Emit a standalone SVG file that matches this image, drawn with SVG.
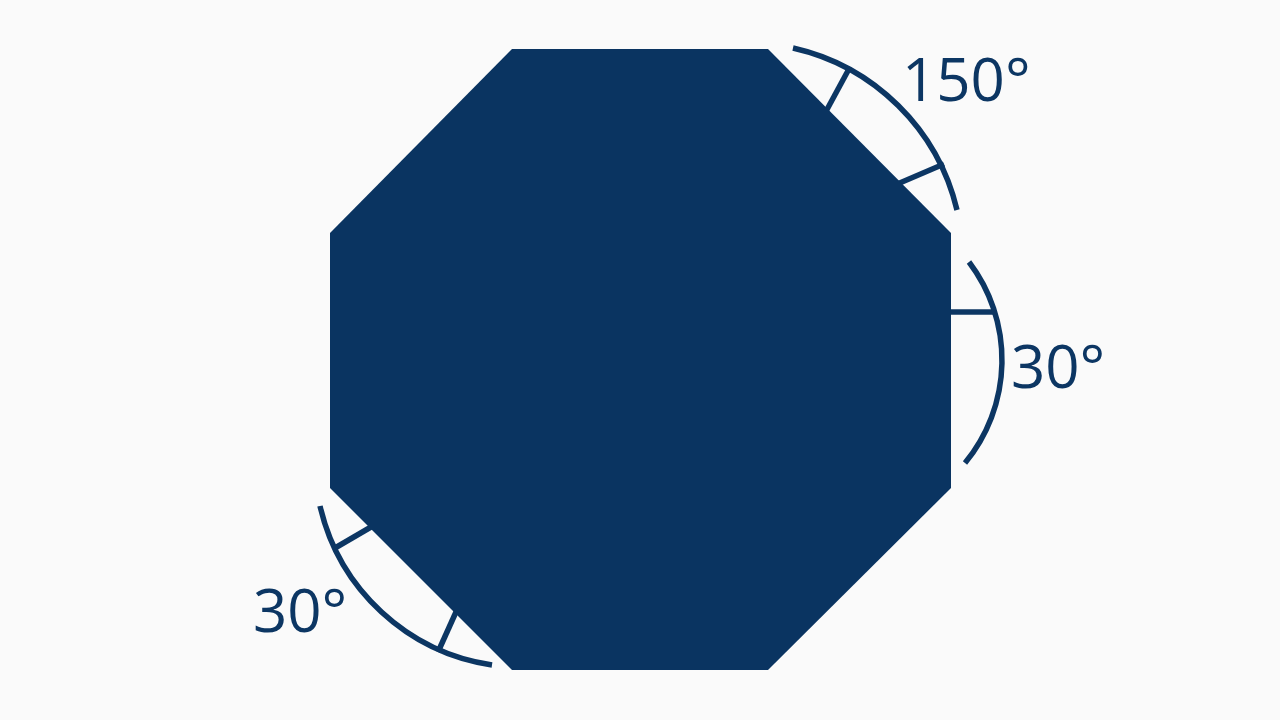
<svg xmlns="http://www.w3.org/2000/svg" width="1280" height="720" viewBox="0 0 1280 720">
  <style>
    .arc { fill: none; stroke: #0c3663; stroke-width: 5.5; stroke-linecap: butt; }
    .lbl { font-family: "Open Sans", "Noto Sans", "Liberation Sans", sans-serif; font-size: 60px; fill: #0c3663; }
    .shape { fill: #0a3461; }
  </style>
  <rect width="1280" height="720" fill="#fafafa"/>
  <g id="connectors">
    <path class="arc" d="M 793 48 A 218 218 0 0 1 957 210"/>
    <line class="arc" x1="824" y1="115" x2="850" y2="67"/>
    <line class="arc" x1="895" y1="185" x2="944" y2="164"/>
    <path class="arc" d="M 969 262 A 162 162 0 0 1 965 463"/>
    <line class="arc" x1="945" y1="312" x2="995" y2="312"/>
    <path class="arc" d="M 320 506 A 208 208 0 0 0 492 665"/>
    <line class="arc" x1="371" y1="527" x2="335" y2="548"/>
    <line class="arc" x1="456" y1="612" x2="438" y2="652"/>
  </g>
  <g id="octagon">
    <polygon class="shape" points="512,49 768,49 951,233 951,488 768,670 512,670 330,488 330,233"/>
  </g>
  <g id="label-150">
    <text class="lbl" x="902" y="101">150°</text>
  </g>
  <g id="label-30-right">
    <text class="lbl" x="1011" y="388">30°</text>
  </g>
  <g id="label-30-left">
    <text class="lbl" x="253" y="632">30°</text>
  </g>
</svg>
